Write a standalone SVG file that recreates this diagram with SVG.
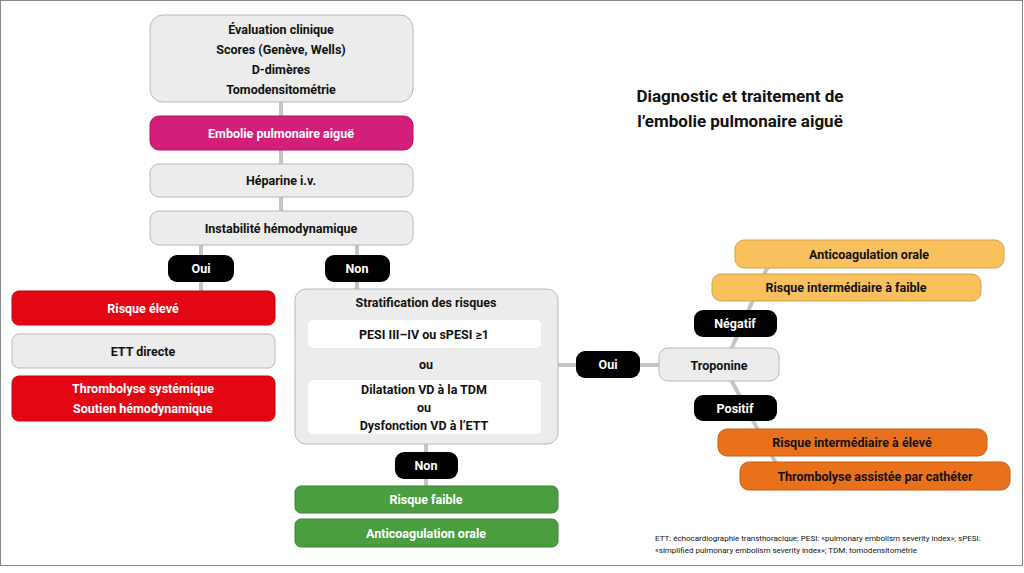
<svg xmlns="http://www.w3.org/2000/svg" width="1024" height="573" viewBox="0 0 1024 573">
<style>
text{font-family:Roboto,"Liberation Sans",sans-serif;font-weight:bold;font-size:12.5px;text-anchor:middle;fill:#111}
.g{fill:#ececec;stroke:#b8b8b8;stroke-width:1}
.w{fill:#fff}
.m{fill:#d31f7a;stroke:#b01765}
.r{fill:#e30613;stroke:#b80510}
.gr{fill:#4a9e3f;stroke:#3d8434}
.lo{fill:#f9c05e;stroke:#d9a049}
.o{fill:#e9711c;stroke:#c75e14}
.p{fill:#000}
.wt{fill:#fff}
.c line{stroke:#c4c4c4;stroke-width:4}
</style>
<rect x="0.5" y="0.5" width="1022" height="565" fill="#fff" stroke="#888"/>
<g class="c">
<line x1="281" y1="100" x2="281" y2="212"/>
<line x1="201" y1="245" x2="201" y2="292"/>
<line x1="357" y1="245" x2="357" y2="290"/>
<line x1="426" y1="444" x2="426" y2="487"/>
<line x1="558" y1="365" x2="660" y2="365"/>
<line x1="775" y1="250" x2="730" y2="352"/>
<line x1="730" y1="378" x2="785" y2="480"/>
</g>
<g id="n1"><rect class="g" x="150" y="15" width="263" height="87" rx="13"/>
<text x="281" y="34">Évaluation clinique</text><text x="281" y="54">Scores (Genève, Wells)</text><text x="281" y="74">D-dimères</text><text x="281" y="94">Tomodensitométrie</text></g>
<g id="n2"><rect class="m" x="150" y="116" width="263" height="34" rx="9"/><text class="wt" x="281" y="138">Embolie pulmonaire aiguë</text></g>
<g id="n3"><rect class="g" x="150" y="164" width="263" height="33" rx="9"/><text x="281" y="185">Héparine i.v.</text></g>
<g id="n4"><rect class="g" x="150" y="211" width="263" height="34" rx="9"/><text x="281" y="233">Instabilité hémodynamique</text></g>
<g id="oui1"><rect class="p" x="168" y="255" width="66" height="27" rx="9"/><text class="wt" x="201" y="273">Oui</text></g>
<g id="non1"><rect class="p" x="325" y="255" width="65" height="27" rx="9"/><text class="wt" x="357" y="273">Non</text></g>
<g id="n5"><rect class="r" x="12" y="291" width="263" height="34" rx="7"/><text class="wt" x="143" y="313">Risque élevé</text></g>
<g id="n6"><rect class="g" x="12" y="334" width="263" height="34" rx="7"/><text x="143" y="356">ETT directe</text></g>
<g id="n7"><rect class="r" x="12" y="376" width="263" height="45" rx="7"/><text class="wt" x="143" y="393">Thrombolyse systémique</text><text class="wt" x="143" y="413">Soutien hémodynamique</text></g>
<g id="n8"><rect class="g" x="295" y="289" width="263" height="155" rx="11"/>
<text x="426" y="307">Stratification des risques</text>
<rect class="w" x="308" y="320" width="233" height="28" rx="5"/><text x="424" y="339">PESI III–IV ou sPESI ≥1</text>
<text x="426" y="369">ou</text>
<rect class="w" x="308" y="380" width="233" height="54" rx="5"/><text x="424" y="394">Dilatation VD à la TDM</text><text x="424" y="412">ou</text><text x="424" y="430">Dysfonction VD à l’ETT</text></g>
<g id="non2"><rect class="p" x="395" y="452" width="63" height="27" rx="9"/><text class="wt" x="426" y="470">Non</text></g>
<g id="n9"><rect class="gr" x="295" y="486" width="263" height="27" rx="6"/><text class="wt" x="426" y="504">Risque faible</text></g>
<g id="n10"><rect class="gr" x="295" y="519" width="263" height="28" rx="6"/><text class="wt" x="426" y="538">Anticoagulation orale</text></g>
<g id="oui2"><rect class="p" x="576" y="351" width="64" height="27" rx="9"/><text class="wt" x="608" y="369">Oui</text></g>
<g id="n11"><rect class="g" x="659" y="348" width="120" height="33" rx="9"/><text x="719" y="370">Troponine</text></g>
<g id="neg"><rect class="p" x="694" y="310" width="83" height="27" rx="9"/><text class="wt" x="735" y="328">Négatif</text></g>
<g id="pos"><rect class="p" x="694" y="395" width="83" height="26" rx="9"/><text class="wt" x="735" y="413">Positif</text></g>
<g id="n12"><rect class="lo" x="735" y="240" width="269" height="28" rx="9"/><text x="869" y="259">Anticoagulation orale</text></g>
<g id="n13"><rect class="lo" x="712" y="274" width="269" height="27" rx="9"/><text x="846" y="292">Risque intermédiaire à faible</text></g>
<g id="n14"><rect class="o" x="718" y="429" width="269" height="27" rx="9"/><text x="852" y="447">Risque intermédiaire à élevé</text></g>
<g id="n15"><rect class="o" x="740" y="462" width="270" height="28" rx="9"/><text x="875" y="481">Thrombolyse assistée par cathéter</text></g>
<text x="740" y="102" style="font-size:17px">Diagnostic et traitement de</text>
<text x="740" y="127" style="font-size:17px">l’embolie pulmonaire aiguë</text>
<text x="655" y="541" style="font-size:8px;font-weight:normal;text-anchor:start">ETT: échocardiographie transthoracique; PESI: «pulmonary embolism severity index»; sPESI:</text>
<text x="655" y="553" style="font-size:8px;font-weight:normal;text-anchor:start">«simplified pulmonary embolism severity index»; TDM: tomodensitométrie</text>
</svg>
